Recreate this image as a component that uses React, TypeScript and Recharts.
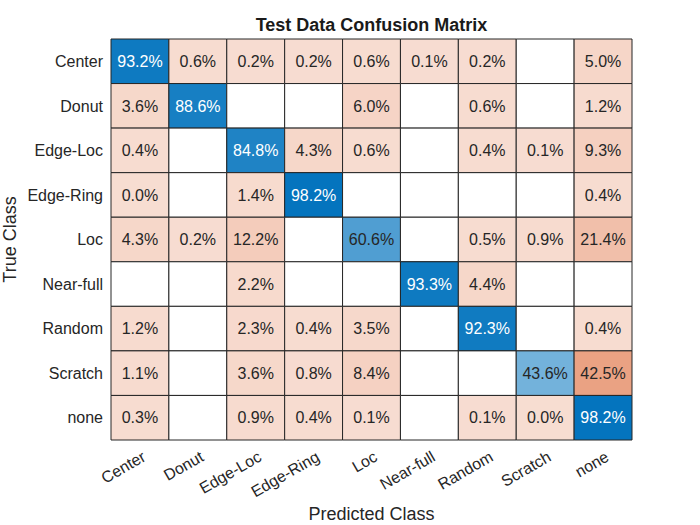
import React from 'react';
import { ComposedChart, XAxis, YAxis, ReferenceArea, Scatter } from 'recharts';

// class names, used for both true (rows) and predicted (columns)
const classes = ['Center', 'Donut', 'Edge-Loc', 'Edge-Ring', 'Loc', 'Near-full', 'Random', 'Scratch', 'none'];

// row-normalized percentages, null = empty cell
const rowCenter = [93.2, 0.6, 0.2, 0.2, 0.6, 0.1, 0.2, null, 5.0];
const rowDonut = [3.6, 88.6, null, null, 6.0, null, 0.6, null, 1.2];
const rowEdgeLoc = [0.4, null, 84.8, 4.3, 0.6, null, 0.4, 0.1, 9.3];
const rowEdgeRing = [0.0, null, 1.4, 98.2, null, null, null, null, 0.4];
const rowLoc = [4.3, 0.2, 12.2, null, 60.6, null, 0.5, 0.9, 21.4];
const rowNearFull = [null, null, 2.2, null, null, 93.3, 4.4, null, null];
const rowRandom = [1.2, null, 2.3, 0.4, 3.5, null, 92.3, null, 0.4];
const rowScratch = [1.1, null, 3.6, 0.8, 8.4, null, null, 43.6, 42.5];
const rowNone = [0.3, null, 0.9, 0.4, 0.1, null, 0.1, 0.0, 98.2];

const matrix: (number | null)[][] = [
  rowCenter, rowDonut, rowEdgeLoc, rowEdgeRing, rowLoc, rowNearFull, rowRandom, rowScratch, rowNone,
];

const FONT = '"Liberation Sans", Arial, Helvetica, sans-serif';
const INK = '#262626';
const BLUE = [0, 114, 189];
const ORANGE = [217, 83, 25];

const cells = matrix.flatMap((row, r) => row.map((v, c) => ({ r, c, v, x: c + 0.5, y: r + 0.5 })));
const ticks = classes.map((_, i) => i + 0.5);

function cellFill(v: number | null, diag: boolean) {
  if (v === null) return '#ffffff';
  const a = 0.2 + (0.8 * v) / 100;
  const target = diag ? BLUE : ORANGE;
  const rgb = target.map((t) => Math.round(255 - a * (255 - t)));
  return `rgb(${rgb.join(',')})`;
}

const XTick = ({ x, y, payload }: any) => (
  <text
    transform={`translate(${x + 7},${y + 12}) rotate(-30)`}
    textAnchor="end"
    fill={INK}
    fontSize={16}
    fontFamily={FONT}
  >
    {classes[Math.floor(payload.value)]}
  </text>
);

export default function App() {
  return (
    <div style={{ position: 'absolute', left: 0, top: 0, width: 700, height: 525, background: '#fff' }}>
      <div
        style={{
          position: 'absolute',
          left: 111,
          width: 521,
          top: 14,
          textAlign: 'center',
          fontFamily: FONT,
          fontWeight: 'bold',
          fontSize: 18,
          color: '#1a1a1a',
          lineHeight: '22px',
        }}
      >
        Test Data Confusion Matrix
      </div>
      <ComposedChart width={700} height={525} data={cells} margin={{ top: 39, right: 68, left: 11, bottom: 0 }}>
        <XAxis
          type="number"
          dataKey="x"
          domain={[0, 9]}
          ticks={ticks}
          axisLine={false}
          tickLine={false}
          interval={0}
          height={85}
          tick={<XTick />}
          label={{
            content: (props: any) => {
              const vb = props.viewBox;
              return (
                <text
                  x={vb.x + vb.width / 2}
                  y={vb.y + vb.height - 5}
                  textAnchor="middle"
                  fill={INK}
                  fontSize={18}
                  fontFamily={FONT}
                >
                  Predicted Class
                </text>
              );
            },
          }}
        />
        <YAxis
          type="number"
          dataKey="y"
          domain={[0, 9]}
          reversed
          ticks={ticks}
          interval={0}
          width={100}
          axisLine={false}
          tickLine={false}
          tickFormatter={(v: number) => classes[Math.floor(v)]}
          tick={{ fill: INK, fontSize: 16, fontFamily: FONT }}
          label={{
            content: (props: any) => {
              const vb = props.viewBox;
              return (
                <text
                  transform={`translate(${vb.x + 5},${vb.y + vb.height / 2}) rotate(-90)`}
                  textAnchor="middle"
                  fill={INK}
                  fontSize={18}
                  fontFamily={FONT}
                >
                  True Class
                </text>
              );
            },
          }}
        />
        {cells.map(({ r, c, v }) => (
          <ReferenceArea
            key={`${r}-${c}`}
            x1={c}
            x2={c + 1}
            y1={r}
            y2={r + 1}
            fill={cellFill(v, r === c)}
            fillOpacity={1}
            stroke={INK}
            strokeWidth={1}
            label={
              v === null
                ? undefined
                : {
                    value: `${v.toFixed(1)}%`,
                    position: 'center',
                    fill: r === c && v > 70 ? '#ffffff' : INK,
                    fontSize: 16,
                    fontFamily: FONT,
                  }
            }
          />
        ))}
        <Scatter data={cells} dataKey="y" shape={() => <g />} isAnimationActive={false} />
      </ComposedChart>
    </div>
  );
}
